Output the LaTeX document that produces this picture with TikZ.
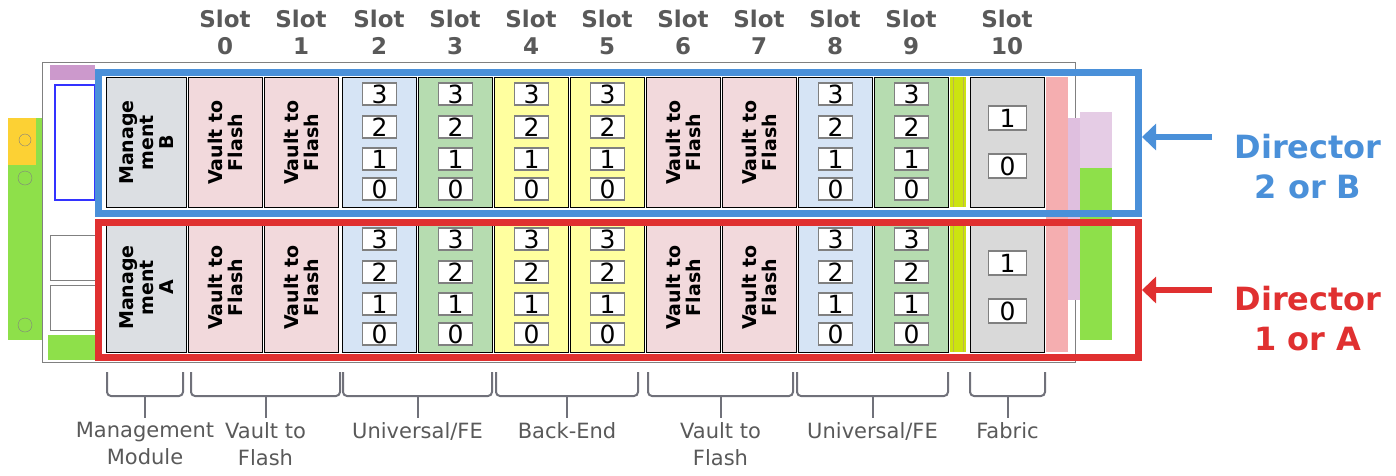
\documentclass[tikz,border=0pt]{standalone}
\usepackage{fontspec}
\setmainfont{DejaVu Sans}
\usetikzlibrary{arrows.meta}
\definecolor{mg}{HTML}{DCDFE3}
\definecolor{vf}{HTML}{F2D9DC}
\definecolor{ub}{HTML}{D6E4F5}
\definecolor{gr}{HTML}{B6DCB0}
\definecolor{yl}{HTML}{FFFF9F}
\definecolor{fb}{HTML}{D9D9D9}
\definecolor{dblue}{HTML}{4A90D9}
\definecolor{dred}{HTML}{E03030}
\definecolor{tgray}{HTML}{595959}
\definecolor{bgray}{HTML}{70717A}
\definecolor{hwg}{HTML}{8EE04A}
\tikzset{
 card/.style={draw=black,line width=1.2pt,inner sep=0pt},
 vtxt/.style={rotate=90,font=\fontsize{19}{20}\selectfont\bfseries,align=center},
 num/.style={draw=gray,line width=1.2pt,fill=white,minimum width=34pt,minimum height=22pt,inner sep=0pt,font=\fontsize{25}{25}\selectfont},
 slot/.style={font=\fontsize{23}{27}\selectfont\bfseries,text=tgray,align=center},
 brace/.style={draw=bgray,line width=2pt,rounded corners=4pt},
 blab/.style={font=\fontsize{21}{27}\selectfont,text=tgray,align=center},
 dir/.style={font=\fontsize{32}{40}\selectfont\bfseries,align=center}
}
\begin{document}
\begin{tikzpicture}[x=1pt,y=-1pt]
\useasboundingbox (0,0) rectangle (1396,475);
% chassis
\draw[gray,fill=white,line width=1pt] (42,62) rectangle (1075,362);
\fill[hwg] (8,118) rectangle (42,340);
\fill[yellow!60!orange!80] (8,118) rectangle (36,165);
\fill[hwg] (48,335) rectangle (100,360);
\fill[violet!40] (50,65) rectangle (95,80);
\draw[gray] (25,140) circle (6) (25,178) circle (7) (25,325) circle (7) (1098,128) circle (6) (1098,178) circle (7) (1098,325) circle (7);
\draw[blue!80,line width=1.5pt] (55,85) rectangle (95,200);
\draw[gray] (50,235) rectangle (95,280) (50,285) rectangle (95,330);
\fill[vf!80!red] (1046,77) rectangle (1068,352);
\fill[violet!25] (1068,118) rectangle (1080,300);
\fill[violet!20] (1080,112) rectangle (1112,168);
\fill[hwg] (1080,168) rectangle (1112,340);
\foreach \r/\y in {B/77,A/222}{
 \begin{scope}[shift={(0,\y)}]
 \node[card,fill=mg,minimum width=80pt,minimum height=130pt,anchor=north west] (m\r) at (106,0) {};
 \node[vtxt] at (m\r) {Manage\\ment\\\r};
 \foreach \i/\x/\c in {0/188/vf,1/264/vf,2/342/ub,3/418/gr,4/494/yl,5/570/yl,6/646/vf,7/722/vf,8/798/ub,9/874/gr}{
  \node[card,fill=\c,minimum width=74pt,minimum height=130pt,anchor=north west] (s\r\i) at (\x,0) {};
 }
 \foreach \i in {0,1,6,7}{\node[vtxt] at (s\r\i) {Vault to\\Flash};}
 \foreach \i in {2,3,4,5,8,9}{
  \foreach \n/\yy in {3/17,2/50,1/82,0/112}{
   \node[num] at ([yshift=-\yy pt]s\r\i.north) {\n};
  }
 }
 \fill[yellow!80!green] (950,0) rectangle (966,130);
 \draw[olive!60] (953,0) -- (953,130) (963,0) -- (963,130);
 \node[card,fill=fb,minimum width=74pt,minimum height=130pt,anchor=north west] (s\r10) at (970,0) {};
 \node[num,minimum width=38pt,minimum height=24pt] at ([yshift=-41pt]s\r10.north) {1};
 \node[num,minimum width=38pt,minimum height=24pt] at ([yshift=-89pt]s\r10.north) {0};
 \end{scope}
}
\draw[dblue,line width=7pt] (98,72) rectangle (1138,213);
\draw[dred,line width=7pt] (98,222) rectangle (1138,357);
% slot labels
\foreach \i/\x in {0/225,1/301,2/379,3/455,4/531,5/607,6/683,7/759,8/835,9/911,10/1007}{
 \node[slot] (t\i) at (\x,32) {Slot\\\i};
}
% directors
\node[dir,text=dblue] (dB) at (1308,167) {Director\\2 or B};
\node[dir,text=dred] (dA) at (1308,319) {Director\\1 or A};
\coordinate (aB) at (1142,137);
\coordinate (aA) at (1142,290);
\draw[dblue,line width=6pt,-{Triangle[length=14pt,width=26pt]}] (1212,137) -- (aB);
\draw[dred,line width=6pt,-{Triangle[length=14pt,width=26pt]}] (1212,290) -- (aA);
% braces
\foreach \a/\b/\lab/\nm in {107/183/{Management\\Module}/l1,191/340/{Vault to\\Flash}/l2,343/492/{Universal/FE}/l3,496/638/{Back-End}/l4,648/793/{Vault to\\Flash}/l5,797/948/{Universal/FE}/l6,970/1045/{Fabric}/l7}{
 \draw[brace] (\a,372) -- (\a,396) -- ({(\a+\b)/2},396) -- (\b,396) -- (\b,372);
 \draw[bgray,line width=2pt] ({(\a+\b)/2},396) -- ({(\a+\b)/2},418);
 \node[blab,anchor=north] (\nm) at ({(\a+\b)/2},419) {\lab};
}
\end{tikzpicture}
\end{document}
